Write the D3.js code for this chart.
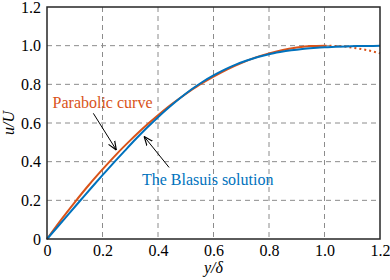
<!DOCTYPE html>
<html>
<head>
<meta charset="utf-8">
<script src="https://cdn.jsdelivr.net/npm/d3@7"></script>
<style>
  html, body { margin: 0; padding: 0; background: #fff; }
  svg { display: block; }
  svg text { font-family: "Liberation Serif", "Times New Roman", Times, "DejaVu Serif", serif; }
</style>
</head>
<body>
<svg id="chart" width="390" height="280"></svg>
<script>
// Parabolic profile, solid up to y/δ = 1, dotted beyond
const paraX = [0, 0.05, 0.1, 0.15, 0.2, 0.25, 0.3, 0.35, 0.4, 0.45, 0.5, 0.55, 0.6, 0.65, 0.7, 0.75, 0.8, 0.85, 0.9, 0.95, 1.0];
const paraU = [0, 0.098, 0.19, 0.278, 0.36, 0.438, 0.51, 0.578, 0.64, 0.698, 0.75, 0.798, 0.84, 0.878, 0.91, 0.938, 0.96, 0.978, 0.99, 0.998, 1.0];
const paraExtX = [1.0, 1.05, 1.1, 1.15, 1.2];
const paraExtU = [1.0, 0.998, 0.99, 0.978, 0.96];

// Blasius solution
const blasX = [0, 0.04, 0.08, 0.12, 0.16, 0.2, 0.24, 0.28, 0.32, 0.36, 0.4, 0.44, 0.48, 0.52, 0.56, 0.6, 0.64, 0.68, 0.72, 0.76, 0.8, 0.84, 0.88, 0.92, 0.96, 1.0, 1.04, 1.08, 1.12, 1.16, 1.2];
const blasU = [0, 0.066, 0.133, 0.199, 0.265, 0.33, 0.394, 0.456, 0.517, 0.575, 0.63, 0.681, 0.729, 0.773, 0.812, 0.846, 0.876, 0.902, 0.923, 0.941, 0.956, 0.967, 0.976, 0.983, 0.988, 0.992, 0.994, 0.996, 0.998, 0.998, 0.999];

const xTicks = [0, 0.2, 0.4, 0.6, 0.8, 1.0, 1.2];
const yTicks = [0, 0.2, 0.4, 0.6, 0.8, 1.0, 1.2];
const xTickLabels = ["0", "0.2", "0.4", "0.6", "0.8", "1.0", "1.2"];
const yTickLabels = ["0", "0.2", "0.4", "0.6", "0.8", "1.0", "1.2"];

const ORANGE = "#d95319", BLUE = "#0072bd";
const FONT = "Liberation Serif, Times New Roman, Times, DejaVu Serif, serif";

const W = 390, H = 280;
const m = { top: 7, right: 10, bottom: 41, left: 47 };
const iW = W - m.left - m.right;
const iH = H - m.top - m.bottom;

const svg = d3.select("#chart");
const g = svg.append("g").attr("transform", `translate(${m.left},${m.top})`);

const x = d3.scaleLinear().domain([0, 1.2]).range([0, iW]);
const y = d3.scaleLinear().domain([0, 1.2]).range([iH, 0]);

// Grid
g.append("g").selectAll("line").data(xTicks.slice(1, -1)).join("line")
  .attr("x1", d => x(d)).attr("x2", d => x(d)).attr("y1", 0).attr("y2", iH)
  .attr("stroke", "#8c8c8c").attr("stroke-width", 1).attr("stroke-dasharray", "5,4");
g.append("g").selectAll("line").data(yTicks.slice(1, -1)).join("line")
  .attr("x1", 0).attr("x2", iW).attr("y1", d => y(d)).attr("y2", d => y(d))
  .attr("stroke", "#8c8c8c").attr("stroke-width", 1).attr("stroke-dasharray", "5,4");

// Axes
g.append("g")
  .attr("transform", `translate(0,${iH})`)
  .call(d3.axisBottom(x).tickValues(xTicks).tickFormat((d, i) => xTickLabels[i]).tickSize(0).tickPadding(5))
  .call(ax => {
    ax.attr("font-family", FONT).attr("font-size", 16);
    ax.select(".domain").remove();
    ax.selectAll(".tick text").attr("fill", "#000").attr("dy", "0.75em");
  });
g.append("g")
  .call(d3.axisLeft(y).tickValues(yTicks).tickFormat((d, i) => yTickLabels[i]).tickSize(0).tickPadding(6))
  .call(ax => {
    ax.attr("font-family", FONT).attr("font-size", 16);
    ax.select(".domain").remove();
    ax.selectAll(".tick text").attr("fill", "#000");
  });

// Curves
const line = d3.line().x(d => x(d[0])).y(d => y(d[1])).curve(d3.curveMonotoneX);
g.append("path").datum(paraX.map((v, i) => [v, paraU[i]]))
  .attr("fill", "none").attr("stroke", ORANGE).attr("stroke-width", 2).attr("d", line);
g.append("path").datum(paraExtX.map((v, i) => [v, paraExtU[i]]))
  .attr("fill", "none").attr("stroke", ORANGE).attr("stroke-width", 2).attr("stroke-dasharray", "2,3").attr("d", line);
g.append("path").datum(blasX.map((v, i) => [v, blasU[i]]))
  .attr("fill", "none").attr("stroke", BLUE).attr("stroke-width", 2).attr("d", line);

// Frame
g.append("rect").attr("width", iW).attr("height", iH)
  .attr("fill", "none").attr("stroke", "#262626").attr("stroke-width", 1.5);

// Annotations
svg.append("defs").append("marker")
  .attr("id", "arr").attr("viewBox", "0 0 10 10").attr("refX", 10).attr("refY", 5)
  .attr("markerWidth", 9).attr("markerHeight", 9).attr("orient", "auto")
  .append("path").attr("d", "M0,1 L10,5 L0,9").attr("fill", "none").attr("stroke", "#000").attr("stroke-width", 1.3);

g.append("text").attr("x", x(0.02)).attr("y", y(0.68))
  .attr("fill", ORANGE).attr("font-size", 16).attr("font-family", FONT)
  .text("Parabolic curve");
g.append("line")
  .attr("x1", x(0.167)).attr("y1", y(0.65)).attr("x2", x(0.25)).attr("y2", y(0.46))
  .attr("stroke", "#000").attr("stroke-width", 1).attr("marker-end", "url(#arr)");

g.append("text").attr("x", x(0.342)).attr("y", y(0.28))
  .attr("fill", BLUE).attr("font-size", 16).attr("font-family", FONT)
  .text("The Blasuis solution");
g.append("line")
  .attr("x1", x(0.44)).attr("y1", y(0.37)).attr("x2", x(0.35)).attr("y2", y(0.53))
  .attr("stroke", "#000").attr("stroke-width", 1).attr("marker-end", "url(#arr)");

// Axis titles
svg.append("text")
  .attr("transform", `translate(14,${m.top + iH / 2}) rotate(-90)`)
  .attr("text-anchor", "middle")
  .attr("font-size", 16).attr("font-style", "italic").attr("font-family", FONT)
  .text("u/U");
svg.append("text")
  .attr("x", m.left + iW / 2).attr("y", 273)
  .attr("text-anchor", "middle")
  .attr("font-size", 16).attr("font-style", "italic").attr("font-family", FONT)
  .text("y/δ");
</script>
</body>
</html>
